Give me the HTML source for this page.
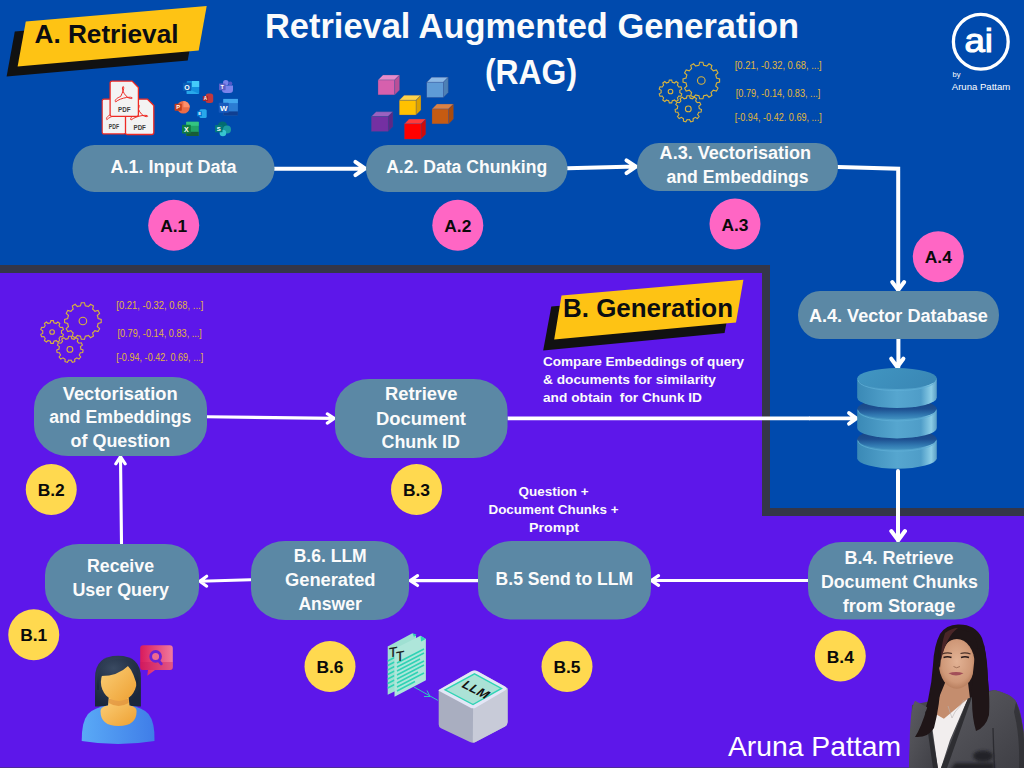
<!DOCTYPE html>
<html><head><meta charset="utf-8">
<style>
html,body{margin:0;padding:0;width:1024px;height:768px;overflow:hidden;background:#004aad;}
svg{display:block;position:absolute;left:0;top:0;}
text{font-family:"Liberation Sans",sans-serif;}
.b{font-weight:bold;}
.w{fill:#fbfbfb;}
.pill{fill:#5b88a5;}
.pk{fill:#ff66c4;}
.yl{fill:#ffd94f;}
.ar{fill:none;stroke:#fff;stroke-width:4;stroke-linecap:round;stroke-linejoin:round;}
.vt{fill:#e2b83c;font-size:10.3px;}
.gear{fill:none;stroke:#d9b43c;stroke-width:1.1;}
</style></head>
<body>
<svg width="1024" height="768" viewBox="0 0 1024 768">
<!-- backgrounds -->
<rect x="0" y="0" width="1024" height="768" fill="#004aad"/>
<path d="M0 273H762V516H1024V768H0Z" fill="#5d17ea"/>
<path d="M0 269H766V512H1024" fill="none" stroke="#343649" stroke-width="8"/>
<rect x="0" y="767" width="1024" height="1" fill="#4d2a9a"/>

<!-- BANNERS -->
<polygon points="14.8,31.5 195.7,16 187.7,60.5 6.6,76.6" fill="#111111"/>
<polygon points="25.8,21.5 206.7,6 198.7,50.5 17.6,66.6" fill="#fec314"/>
<text class="b" x="34.5" y="43" font-size="25.7" textLength="144" lengthAdjust="spacingAndGlyphs" fill="#0b0d12">A. Retrieval</text>

<polygon points="551.3,306.6 732.4,291 724.6,333 543.2,350.6" fill="#111111"/>
<polygon points="561.5,295.6 743.4,279.8 736,322.5 554.2,339.6" fill="#fec314"/>
<text class="b" x="563" y="316.9" font-size="26" textLength="170" lengthAdjust="spacingAndGlyphs" fill="#0b0d12">B. Generation</text>

<!-- TITLE -->
<text class="b w" x="265" y="38.3" font-size="35.8" textLength="534" lengthAdjust="spacingAndGlyphs">Retrieval Augmented Generation</text>
<text class="b w" x="485" y="84" font-size="35.8" textLength="92" lengthAdjust="spacingAndGlyphs">(RAG)</text>

<!-- ARROWS -->
<g class="ar">
<path d="M274 168.7H364.9M355.4 161.9L364.9 168.5L355.4 175.1"/>
<path d="M567.5 168.2L636 166.6M626.5 160.3L636 166.6L626.5 173.2"/>
<path d="M838 167L898.2 168.8V290" style="stroke-linejoin:miter"/><path d="M892.2 282L898.2 290L904.2 282"/>
<path d="M898.4 337V367M891.2 358.7L897.3 367L903.4 358.7"/>
<path d="M898 471V540.5M891.3 531L898.2 540.3L905 531"/>
<path d="M810 418.4H856.3M849 413L856.3 418.4L849 423.8" style="stroke-width:3.8"/>
<path d="M507.5 418.4H810" style="stroke-width:3.8;stroke-linecap:butt"/>
</g>
<g class="ar" style="stroke-width:3.1">
<path d="M808 580.5H651.5M658.5 575.6L651.2 580.5L658.5 585.4"/>
<path d="M478 580.6H410.5M417.6 575.6L410.2 580.6L417.6 585.5"/>
<path d="M250.5 579.8L200 581.2M206.7 576.2L199.8 581.2L206.7 586.2"/>
<path d="M121.5 543.5L120.5 457M115.8 463.8L120.5 456.6L125.2 463.8"/>
<path d="M207 416.7L334 418.4M327.3 413.8L334.2 418.4L327.3 423.1"/>
</g>


<!-- PILLS -->
<rect class="pill" x="72.5" y="145" width="202" height="47" rx="22" ry="23.5"/>
<rect class="pill" x="366" y="145" width="201.5" height="47" rx="22" ry="23.5"/>
<rect class="pill" x="637" y="143" width="201" height="48" rx="22" ry="24"/>
<rect class="pill" x="798" y="291" width="201" height="48" rx="22" ry="24"/>
<rect class="pill" x="34" y="377" width="173" height="79" rx="34" ry="31"/>
<rect class="pill" x="335" y="379" width="172.5" height="79" rx="34" ry="31"/>
<rect class="pill" x="45" y="544" width="154" height="75" rx="34" ry="31"/>
<rect class="pill" x="251" y="541" width="158" height="79" rx="34" ry="31"/>
<rect class="pill" x="478" y="541" width="173" height="78.5" rx="34" ry="31"/>
<rect class="pill" x="808" y="542" width="181" height="77.5" rx="34" ry="31"/>

<!-- PILL TEXT -->
<g class="b w" font-size="18.9">
<text x="110.6" y="173" textLength="126" lengthAdjust="spacingAndGlyphs">A.1. Input Data</text>
<text x="386.2" y="173" textLength="161" lengthAdjust="spacingAndGlyphs">A.2. Data Chunking</text>
<text x="659.6" y="159.4" textLength="151.5" lengthAdjust="spacingAndGlyphs">A.3. Vectorisation</text>
<text x="666.5" y="182.5" textLength="142" lengthAdjust="spacingAndGlyphs">and Embeddings</text>
<text x="808.9" y="321.8" textLength="179" lengthAdjust="spacingAndGlyphs">A.4. Vector Database</text>

<text x="62.7" y="399.7" textLength="115" lengthAdjust="spacingAndGlyphs">Vectorisation</text>
<text x="49.3" y="423" textLength="142" lengthAdjust="spacingAndGlyphs">and Embeddings</text>
<text x="70.6" y="446.6" textLength="99.5" lengthAdjust="spacingAndGlyphs">of Question</text>

<text x="385" y="400.3" textLength="72.5" lengthAdjust="spacingAndGlyphs">Retrieve</text>
<text x="376" y="424.7" textLength="90" lengthAdjust="spacingAndGlyphs">Document</text>
<text x="381.5" y="448" textLength="78.5" lengthAdjust="spacingAndGlyphs">Chunk ID</text>

<text x="87" y="572.2" textLength="67" lengthAdjust="spacingAndGlyphs">Receive</text>
<text x="72.4" y="595.6" textLength="96.5" lengthAdjust="spacingAndGlyphs">User Query</text>

<text x="293.7" y="561.9" textLength="73" lengthAdjust="spacingAndGlyphs">B.6. LLM</text>
<text x="285" y="585.6" textLength="90.5" lengthAdjust="spacingAndGlyphs">Generated</text>
<text x="298.4" y="609.7" textLength="63.5" lengthAdjust="spacingAndGlyphs">Answer</text>

<text x="495.6" y="584.7" textLength="137.5" lengthAdjust="spacingAndGlyphs">B.5 Send to LLM</text>

<text x="844.6" y="564" textLength="109" lengthAdjust="spacingAndGlyphs">B.4. Retrieve</text>
<text x="820.9" y="588" textLength="157" lengthAdjust="spacingAndGlyphs">Document Chunks</text>
<text x="842.7" y="611.6" textLength="112.5" lengthAdjust="spacingAndGlyphs">from Storage</text>
</g>

<!-- small white notes -->
<g class="b w" font-size="13.5">
<text x="543" y="366" textLength="201" lengthAdjust="spacingAndGlyphs">Compare Embeddings of query</text>
<text x="543" y="384" textLength="173" lengthAdjust="spacingAndGlyphs">&amp; documents for similarity</text>
<text x="543" y="401.8" textLength="159" lengthAdjust="spacingAndGlyphs">and obtain&#160; for Chunk ID</text>
<text x="518.5" y="496" textLength="70" lengthAdjust="spacingAndGlyphs">Question +</text>
<text x="488.5" y="513.75" textLength="130" lengthAdjust="spacingAndGlyphs">Document Chunks +</text>
<text x="529" y="531.5" textLength="50" lengthAdjust="spacingAndGlyphs">Prompt</text>
</g>

<!-- CIRCLES -->
<circle class="pk" cx="173.7" cy="225.3" r="25.5"/>
<circle class="pk" cx="457.8" cy="225.3" r="25.5"/>
<circle class="pk" cx="735" cy="224" r="25.5"/>
<circle class="pk" cx="938.3" cy="256.7" r="25.5"/>
<circle class="yl" cx="51.25" cy="489.5" r="25.5"/>
<circle class="yl" cx="416.5" cy="489.5" r="25.5"/>
<circle class="yl" cx="33.75" cy="634.7" r="25.5"/>
<circle class="yl" cx="330" cy="666.5" r="25.5"/>
<circle class="yl" cx="567" cy="666.5" r="25.5"/>
<circle class="yl" cx="840.3" cy="656" r="25.5"/>
<g class="b" font-size="17.4" fill="#0a0a0a" text-anchor="middle">
<text x="173.7" y="231.9">A.1</text>
<text x="457.8" y="231.9">A.2</text>
<text x="735" y="230.6">A.3</text>
<text x="938.3" y="263.3">A.4</text>
<text x="51.25" y="496.1">B.2</text>
<text x="416.5" y="496.1">B.3</text>
<text x="33.75" y="641.3">B.1</text>
<text x="330" y="673.1">B.6</text>
<text x="567" y="673.1">B.5</text>
<text x="840.3" y="662.6">B.4</text>
</g>

<!-- GEARS + VECTORS -->
<defs>
<g id="vec">
<g class="gear">
<path d="M-4.0 -14.9L-2.4 -15.2L-1.6 -18.3L1.6 -18.3L2.4 -15.2L4.0 -14.9L5.5 -14.4L7.7 -16.7L10.6 -15.1L9.7 -12.0L10.9 -10.9L12.0 -9.7L15.1 -10.6L16.7 -7.7L14.4 -5.5L14.9 -4.0L15.2 -2.4L18.3 -1.6L18.3 1.6L15.2 2.4L14.9 4.0L14.4 5.5L16.7 7.7L15.1 10.6L12.0 9.7L10.9 10.9L9.7 12.0L10.6 15.1L7.7 16.7L5.5 14.4L4.0 14.9L2.4 15.2L1.6 18.3L-1.6 18.3L-2.4 15.2L-4.0 14.9L-5.5 14.4L-7.7 16.7L-10.6 15.1L-9.7 12.0L-10.9 10.9L-12.0 9.7L-15.1 10.6L-16.7 7.7L-14.4 5.5L-14.9 4.0L-15.2 2.4L-18.3 1.6L-18.3 -1.6L-15.2 -2.4L-14.9 -4.0L-14.4 -5.5L-16.7 -7.7L-15.1 -10.6L-12.0 -9.7L-10.9 -10.9L-9.7 -12.0L-10.6 -15.1L-7.7 -16.7L-5.5 -14.4Z"/>
<path d="M-33.7 2.1L-32.6 1.8L-32.0 -0.4L-29.6 -0.4L-29.0 1.8L-27.9 2.1L-26.8 2.5L-25.1 1.0L-23.1 2.5L-23.9 4.6L-23.2 5.5L-22.6 6.5L-20.3 6.3L-19.5 8.6L-21.5 9.8L-21.4 11.0L-21.5 12.2L-19.5 13.4L-20.3 15.7L-22.6 15.5L-23.2 16.5L-23.9 17.4L-23.1 19.5L-25.1 21.0L-26.8 19.5L-27.9 19.9L-29.0 20.2L-29.6 22.4L-32.0 22.4L-32.6 20.2L-33.7 19.9L-34.8 19.5L-36.5 21.0L-38.5 19.5L-37.7 17.4L-38.4 16.5L-39.0 15.5L-41.3 15.7L-42.1 13.4L-40.1 12.2L-40.2 11.0L-40.1 9.8L-42.1 8.6L-41.3 6.3L-39.0 6.5L-38.4 5.5L-37.7 4.6L-38.5 2.5L-36.5 1.0L-34.8 2.5Z"/>
<path d="M-16.1 17.9L-14.9 17.7L-14.3 15.3L-11.7 15.3L-11.1 17.7L-9.9 17.9L-8.8 18.4L-7.0 16.7L-4.8 18.0L-5.6 20.4L-4.8 21.3L-4.0 22.2L-1.6 21.8L-0.5 24.1L-2.5 25.6L-2.2 26.8L-2.1 28.1L0.2 29.0L-0.2 31.5L-2.6 31.8L-3.1 32.9L-3.7 34.0L-2.2 36.0L-3.9 38.0L-6.1 36.8L-7.1 37.6L-8.2 38.2L-8.1 40.6L-10.5 41.4L-11.8 39.2L-13.0 39.3L-14.2 39.2L-15.5 41.4L-17.9 40.6L-17.8 38.2L-18.9 37.6L-19.9 36.8L-22.1 38.0L-23.8 36.0L-22.3 34.0L-22.9 32.9L-23.4 31.8L-25.8 31.5L-26.2 29.0L-23.9 28.1L-23.8 26.8L-23.5 25.6L-25.5 24.1L-24.4 21.8L-22.0 22.2L-21.2 21.3L-20.4 20.4L-21.2 18.0L-19.0 16.7L-17.2 18.4Z"/>
<circle cx="0" cy="0" r="3.8"/><circle cx="-30.8" cy="11" r="2.3"/><circle cx="-13" cy="28.4" r="2.9"/>
</g>
<g class="vt">
<text x="33.4" y="-11.9" textLength="87" lengthAdjust="spacingAndGlyphs">[0.21, -0.32, 0.68, ...]</text>
<text x="34.5" y="16" textLength="84.5" lengthAdjust="spacingAndGlyphs">[0.79, -0.14, 0.83, ...]</text>
<text x="33.4" y="40.2" textLength="87" lengthAdjust="spacingAndGlyphs">[-0.94, -0.42. 0.69, ...]</text>
</g>
</g>
</defs>
<use href="#vec" transform="translate(701.3,80.5)"/>
<use href="#vec" transform="translate(82.9,321)"/>


<!-- PDF ICONS -->
<defs>
<g id="pdfp">
<path d="M2 0H22L28.3 6.4V33.3Q28.3 35.3 26.3 35.3H2Q0 35.3 0 33.3V2Q0 0 2 0Z" fill="#f3f3f3" stroke="#ee2a24" stroke-width="1.3"/>
<path d="M5.6 20.8C4 19.5 6.5 16.8 10.5 15.5C12.5 11.5 14 7.5 13.6 6C13.2 4.8 12 5.6 12.4 8C12.9 11 15 14.5 17.8 16.4C20 17.6 22.2 17.8 22.2 16.9C22.1 16 19.6 16 16.5 16.4C12.5 17 8 18.6 5.6 20.8Z" fill="none" stroke="#ee2a24" stroke-width="1"/>
<text x="14.2" y="30.7" font-size="7.9" font-weight="bold" text-anchor="middle" fill="#3d3d3d" textLength="12.4" lengthAdjust="spacingAndGlyphs">PDF</text>
</g>
</defs>
<use href="#pdfp" transform="translate(102.2,99.2) scale(0.83,0.985)"/>
<use href="#pdfp" transform="translate(125.5,99.2)"/>
<use href="#pdfp" transform="translate(110.1,81.1)"/>

<!-- OFFICE ICONS -->
<g>
<!-- outlook -->
<rect x="186.7" y="81" width="12.5" height="12.9" rx="1" fill="#1490df"/>
<rect x="192" y="81" width="7.2" height="6" fill="#50d9ff" opacity="0.8"/>
<path d="M186.7 88L199.2 93.9H186.7Z" fill="#28a8ea"/>
<rect x="182.9" y="82.7" width="8.4" height="8.3" rx="0.8" fill="#0a5fb8"/>
<text x="187.1" y="89.6" font-size="7" font-weight="bold" text-anchor="middle" fill="#fff">O</text>
<!-- teams -->
<circle cx="225.8" cy="82.7" r="2.8" fill="#7b83eb"/>
<circle cx="230.3" cy="83.5" r="2" fill="#5059c9"/>
<path d="M222 85.5H233V90Q233 93 229.5 93H225.5Q222 93 222 90Z" fill="#7b83eb"/>
<rect x="219" y="83.5" width="6.6" height="6.7" rx="0.6" fill="#5b5fc7"/>
<text x="222.3" y="89" font-size="5.5" font-weight="bold" text-anchor="middle" fill="#fff">T</text>
<!-- access -->
<rect x="205.6" y="93.5" width="7.6" height="9.5" rx="2.5" fill="#c0383e"/>
<rect x="202.8" y="96" width="5.2" height="5" rx="0.5" fill="#a4262c"/>
<text x="205.4" y="100.3" font-size="4.6" font-weight="bold" text-anchor="middle" fill="#fff">A</text>
<!-- powerpoint -->
<circle cx="183.4" cy="107.2" r="6.3" fill="#ed6c47"/>
<path d="M183.4 100.9A6.3 6.3 0 0 1 189.7 107.2H183.4Z" fill="#ff8f6b"/>
<rect x="174.6" y="103.8" width="7.2" height="6.9" rx="0.6" fill="#c43e1c"/>
<text x="178.2" y="109.3" font-size="5.8" font-weight="bold" text-anchor="middle" fill="#fff">P</text>
<!-- exchange -->
<rect x="199.5" y="109.3" width="7.2" height="8.7" rx="1.5" fill="#28a8ea"/>
<rect x="197" y="111.2" width="5" height="5" rx="0.5" fill="#0078d4"/>
<text x="199.5" y="115.3" font-size="4" font-weight="bold" text-anchor="middle" fill="#fff">E</text>
<!-- word -->
<rect x="223.3" y="98.9" width="14.6" height="16.7" rx="0.8" fill="#2b7cd3"/>
<rect x="223.3" y="98.9" width="14.6" height="4.2" fill="#41a5ee"/>
<rect x="223.3" y="111.4" width="14.6" height="4.2" fill="#103f91"/>
<rect x="218.75" y="102.7" width="10" height="10" rx="0.8" fill="#185abd"/>
<text x="223.75" y="110.6" font-size="8" font-weight="bold" text-anchor="middle" fill="#fff">W</text>
<!-- excel -->
<rect x="186.25" y="121.8" width="12.5" height="14.2" rx="0.8" fill="#21a366"/>
<rect x="186.25" y="121.8" width="12.5" height="4" fill="#33c481"/>
<rect x="186.25" y="131.8" width="12.5" height="4.2" fill="#185c37"/>
<rect x="182" y="124.75" width="8.8" height="8.75" rx="0.7" fill="#107c41"/>
<text x="186.4" y="131.6" font-size="7" font-weight="bold" text-anchor="middle" fill="#fff">X</text>
<!-- sharepoint -->
<circle cx="222.5" cy="126.2" r="4.8" fill="#036c70"/>
<circle cx="227" cy="129.5" r="4" fill="#1a9ba1"/>
<circle cx="222.9" cy="133" r="3.3" fill="#37c6d0"/>
<rect x="215" y="125" width="7.5" height="7.3" rx="0.6" fill="#03787c"/>
<text x="218.75" y="131" font-size="6" font-weight="bold" text-anchor="middle" fill="#fff">S</text>
</g>


<!-- CUBES -->
<g stroke="#3f4e8a" stroke-width="0.3"><path d="M378.0 80.0L383.0 75.0H399.6L394.6 80.0Z" fill="#e58ccb"/><path d="M394.6 80.0L399.6 75.0V89.9L394.6 94.9Z" fill="#b94f98"/><rect x="378.0" y="80.0" width="16.6" height="14.9" fill="#d660ad"/><path d="M426.8 82.2L431.7 77.3H448.2L443.3 82.2Z" fill="#8cb9e6"/><path d="M443.3 82.2L448.2 77.3V92.5L443.3 97.4Z" fill="#4d80b5"/><rect x="426.8" y="82.2" width="16.5" height="15.2" fill="#5f9bd6"/><path d="M399.2 100.2L404.2 95.2H421.0L416.0 100.2Z" fill="#ffd34a"/><path d="M416.0 100.2L421.0 95.2V110.0L416.0 115.0Z" fill="#dba100"/><rect x="399.2" y="100.2" width="16.8" height="14.8" fill="#ffc100"/><path d="M371.3 116.6L376.1 111.8H392.9L388.1 116.6Z" fill="#9a62c0"/><path d="M388.1 116.6L392.9 111.8V126.6L388.1 131.4Z" fill="#5d2787"/><rect x="371.3" y="116.6" width="16.8" height="14.8" fill="#7430a2"/><path d="M404.3 123.9L409.1 119.1H425.8L421.0 123.9Z" fill="#ff3a3a"/><path d="M421.0 123.9L425.8 119.1V134.3L421.0 139.1Z" fill="#cf0a0a"/><rect x="404.3" y="123.9" width="16.7" height="15.2" fill="#ff0000"/><path d="M432.0 109.0L436.9 104.1H453.5L448.6 109.0Z" fill="#da8245"/><path d="M448.6 109.0L453.5 104.1V119.0L448.6 123.9Z" fill="#a84b0d"/><rect x="432.0" y="109.0" width="16.6" height="14.9" fill="#c65b12"/></g>


<!-- DATABASE -->
<defs>
<linearGradient id="dbside" x1="0" x2="1" y1="0" y2="0">
<stop offset="0" stop-color="#3a89b6"/><stop offset="0.5" stop-color="#56a6cf"/><stop offset="0.8" stop-color="#4f9dc8"/><stop offset="0.93" stop-color="#8ccde6"/><stop offset="1" stop-color="#5a9dc4"/>
</linearGradient>
<linearGradient id="dbtop" x1="0" x2="1" y1="0" y2="0.3">
<stop offset="0" stop-color="#4196c2"/><stop offset="1" stop-color="#3a88b6"/>
</linearGradient>
<linearGradient id="dbdark" x1="0" x2="0" y1="0" y2="1">
<stop offset="0" stop-color="#173f7e"/><stop offset="0.5" stop-color="#1d4f90"/><stop offset="0.78" stop-color="#3077b0"/><stop offset="1" stop-color="#4292c0"/>
</linearGradient>
</defs>
<path d="M857.2 439.2V458.2A39.8 10.5 0 0 0 936.8 458.2V439.2Z" fill="url(#dbside)"/><ellipse cx="897" cy="439.2" rx="39.8" ry="10.5" fill="url(#dbdark)"/><path d="M857.2 408.9V427.9A39.8 10.5 0 0 0 936.8 427.9V408.9Z" fill="url(#dbside)"/><ellipse cx="897" cy="408.9" rx="39.8" ry="10.5" fill="url(#dbdark)"/><path d="M857.2 378.6V397.6A39.8 10.5 0 0 0 936.8 397.6V378.6Z" fill="url(#dbside)"/><ellipse cx="897" cy="378.6" rx="39.8" ry="10.5" fill="url(#dbtop)"/>
<path d="M858 380.1A39 10.5 0 0 0 936 380.1" fill="none" stroke="#5eaed6" stroke-width="1" opacity="0.8"/><path d="M858 410.4A39 10.5 0 0 0 936 410.4" fill="none" stroke="#5eaed6" stroke-width="1" opacity="0.8"/><path d="M858 440.7A39 10.5 0 0 0 936 440.7" fill="none" stroke="#5eaed6" stroke-width="1" opacity="0.8"/>

<!-- AI LOGO -->
<circle cx="980.8" cy="41.8" r="27.4" fill="none" stroke="#fff" stroke-width="3.3"/>
<text x="964.5" y="52" font-size="34" textLength="28.5" lengthAdjust="spacingAndGlyphs" fill="#fff" stroke="#fff" stroke-width="1.1">ai</text>
<text x="952.5" y="77" font-size="7.5" fill="#fff">by</text>
<text x="951.8" y="89.8" font-size="9.4" textLength="58.5" lengthAdjust="spacingAndGlyphs" fill="#fff">Aruna Pattam</text>


<!-- USER ICON -->
<defs>
<linearGradient id="shirt" x1="0" x2="1" y1="0" y2="0"><stop offset="0" stop-color="#5aaaf6"/><stop offset="1" stop-color="#3f7de8"/></linearGradient>
<linearGradient id="skin" x1="0" x2="1" y1="0" y2="1"><stop offset="0" stop-color="#fbd07a"/><stop offset="1" stop-color="#eea032"/></linearGradient>
<linearGradient id="bub" x1="0" x2="1" y1="0" y2="0"><stop offset="0" stop-color="#d91b5c"/><stop offset="1" stop-color="#f27a9e"/></linearGradient>
<radialGradient id="hairg" cx="0.4" cy="0.3" r="0.7"><stop offset="0" stop-color="#3a4a62"/><stop offset="1" stop-color="#1a273c"/></radialGradient>
</defs>
<path d="M95 706.6V678Q95 655.8 118 655.8Q140.9 655.8 140.9 678V706.6Z" fill="url(#hairg)"/>
<path d="M81.7 741Q81.5 722 88 714Q95 707 108 705.5H129Q142 707 148.5 714Q155 722 154.5 741Q118 747 81.7 741Z" fill="url(#shirt)"/>
<path d="M108.7 698H128.7L129.5 705.5Q136.6 706.5 136.6 711Q136.6 726 118.5 726Q100.5 726 100.5 711Q100.5 706.5 108 705.5Z" fill="url(#skin)"/>
<path d="M108.7 699L128.7 699L128.5 703Q118.5 709 108.8 703Z" fill="#d9822e" opacity="0.55"/>
<ellipse cx="118.7" cy="682" rx="17.8" ry="19" fill="url(#skin)"/>
<path d="M97 690Q95 664 112 660Q130 656 138 668Q139 678 138 690Q134 672 128 666Q118 676 101 676Q99 682 99 690Z" fill="url(#hairg)"/>
<path d="M140.2 648.3Q140.2 645.3 143.2 645.3H169.8Q172.8 645.3 172.8 648.3V667Q172.8 670 169.8 670H155L147.3 675.8L148 670H143.2Q140.2 670 140.2 667Z" fill="url(#bub)"/>
<rect x="140.2" y="662" width="32.6" height="8" fill="#c2185b" opacity="0.35"/>
<circle cx="155.6" cy="656.4" r="4.9" fill="#ee6a8e" stroke="#6a22d6" stroke-width="2.8"/>
<path d="M159 661L161.3 663.8" stroke="#6a22d6" stroke-width="2.8" stroke-linecap="round"/>

<!-- LLM ICON -->
<g>
<path d="M387.7 646.5L412.4 633.3L416 636V681L387.7 694.7Z" fill="#9fe0d2"/>
<path d="M387.7 661L394.5 657.5M387.7 665.5L394.5 662M387.7 670L394.5 666.5M387.7 674.5L394.5 671M387.7 679L394.5 675.5M387.7 683.5L394.5 680M387.7 688L394.5 684.5" stroke="#2fd3b5" stroke-width="1.5"/>
<path d="M394.5 648.7L420.5 635.7L425.9 639V680.2L394.5 696.7Z" fill="#aee6da"/>
<path d="M412.4 633.3L416.5 634.5L414 637Z M420.5 635.7L425.9 639L421 641.5Z" fill="#2fd3b5"/>
<path d="M397 663L424 649M397 667L424 653M397 671L420 659M397 675L424 661M397 679L424 665M397 683L418 672M397 687L424 673M397 691L415 681.5" stroke="#2fd3b5" stroke-width="1.5"/>
<text x="0" y="0" font-family="Liberation Serif" font-size="13.5" fill="#1a1a1a" stroke="#1a1a1a" stroke-width="0.3" transform="translate(389,657.5) skewY(-10)">T</text>
<text x="0" y="0" font-family="Liberation Serif" font-size="13.5" fill="#1a1a1a" stroke="#1a1a1a" stroke-width="0.3" transform="translate(396,661.5) skewY(-10)">T</text>
<path d="M414 687L437.9 700.4M427 690.5L430 696.5L424 696.5" fill="none" stroke="#2fc6c0" stroke-width="1"/>
<path d="M438.7 690L471 671.5Q474.6 669.6 478 671.5L505 686.5Q507.6 688 507.6 690V722Q507.6 725 505 726.5L475.5 742Q472.8 743.3 470 742L441 728.2Q438.7 727 438.7 724.4Z" fill="#a9aec0"/>
<path d="M473.1 707L507.6 688V722Q507.6 725 505 726.5L475.5 742Q473.5 743 472.8 742.3Z" fill="#c8cbd8"/>
<path d="M438.7 690L471 671.5Q474.6 669.6 478 671.5L505 686.5Q508.6 688.4 505 690.5L476 707.5Q473 709.2 470 707.5L442 692.5Q437.7 690.5 438.7 690Z" fill="#e3e6f6"/>
<path d="M445 689.8L474.5 673.8L501.5 688.4L473 704.5Z" fill="#abe2d6" stroke="#2fd3b5" stroke-width="1.4"/>
<text x="0" y="0" font-size="12.5" font-weight="bold" fill="#111" text-anchor="middle" textLength="27.5" lengthAdjust="spacingAndGlyphs" transform="translate(472.8,692.8) rotate(27) skewX(-20)">LLM</text>
</g>

<!-- PERSON -->
<defs>
<radialGradient id="face" cx="0.5" cy="0.45" r="0.6"><stop offset="0" stop-color="#e2b294"/><stop offset="0.7" stop-color="#cf9878"/><stop offset="1" stop-color="#b07656"/></radialGradient>
<linearGradient id="jacket" x1="0" x2="1" y1="0" y2="1"><stop offset="0" stop-color="#5c5c62"/><stop offset="1" stop-color="#3e3e44"/></linearGradient>
</defs>
<path d="M912 705L945 698L994.5 690Q1010 694 1015 700Q1020 708 1022 722L1024 734V768H909Z" fill="#48484d"/>
<path d="M957.8 624.6Q975 624 982 638Q987 652 987.7 675Q988.5 690 990.7 710.7Q991 725 987.7 732L973.8 733L960 700H950L930 735L915 737Q924 715 928 700Q932 682 933 665Q934 645 940 634Q946 625 957.8 624.6Z" fill="#1f1517"/>
<path d="M945.9 680.8H967.8L970 698.7L959.8 708.7L946 722L928 711L938 700Z" fill="#c48d6e"/>
<ellipse cx="956.8" cy="663.8" rx="17.9" ry="24.9" fill="url(#face)"/>
<path d="M938.5 665Q936 640 948 632Q958 627 970 632Q977 637 978 650Q972 641 962 638Q955 637 948 642Q941 650 940 668Z" fill="#1f1517"/>
<path d="M945 633Q952 628 958 628Q952 632 948 640Q944 648 941 660Q941 645 945 633Z" fill="#4a2628"/>
<path d="M942 654Q947 652 952 653.5M960.5 653.5Q965.5 652 970.5 654" stroke="#4a3028" stroke-width="1.1" fill="none"/>
<path d="M943.5 657.5Q947.5 655.8 951.5 657.5M961 657.5Q965 655.8 969 657.5" stroke="#2a1a1a" stroke-width="1.5" fill="none"/>
<path d="M948.5 673.2Q956 670.8 963.5 673.2Q956 677.8 948.5 673.2Z" fill="#a24f58"/>
<path d="M953.5 666.5Q956.5 669 960 666.5" stroke="#8a5a44" stroke-width="1" fill="none" opacity="0.7"/>
<path d="M915 700.7L929.9 708.7L937.9 768H909L910 730Q911 708 915 700.7Z" fill="url(#jacket)"/>
<path d="M967.8 698.7L994.5 690Q1010 694 1015 700Q1020 708 1022 722L1024 734V768H939.9Z" fill="url(#jacket)"/>
<path d="M1016 702Q1022 715 1024 740V768H1019Q1020 735 1014 712Z" fill="#2c2c30" opacity="0.7"/>
<path d="M993 728Q993.5 748 994.5 768" stroke="#26262a" stroke-width="1.3" fill="none" opacity="0.8"/>
<defs><filter id="bl" x="-50%" y="-50%" width="200%" height="200%"><feGaussianBlur stdDeviation="1.5"/></filter></defs>
<g filter="url(#bl)" opacity="0.85"><ellipse cx="983" cy="756" rx="10" ry="5.5" fill="#1d1d21"/><path d="M955 763H994V770H950Z" fill="#1f1f23"/></g>
<path d="M929.9 710.7L943.9 718.7L967.8 698.7L950 740L941 768H937.9Z" fill="#f2eeee"/>
<path d="M928 709L937.9 768H933L925 712Z" fill="#2c2c30"/>
<path d="M967.8 698.7L941 768H947L972 697Z" fill="#2e2e32"/>
<path d="M984 645Q987 660 988 680Q990 700 989 715Q986 727 976 731Q972 718 972 700Q971 680 976 650Z" fill="#1f1517"/>
<path d="M934 668Q932 690 927 708Q921 728 915 737Q928 738 934 728Q940 705 941 678Z" fill="#1f1517"/>
<path d="M948 706Q950 712 952 718L955 712Q960 707 964 700" stroke="#b9b2b2" stroke-width="0.6" fill="none"/>

<!-- Aruna Pattam -->
<text x="728" y="756.1" font-size="28" textLength="173" lengthAdjust="spacingAndGlyphs" fill="#fff">Aruna Pattam</text>

</svg>
</body></html>
